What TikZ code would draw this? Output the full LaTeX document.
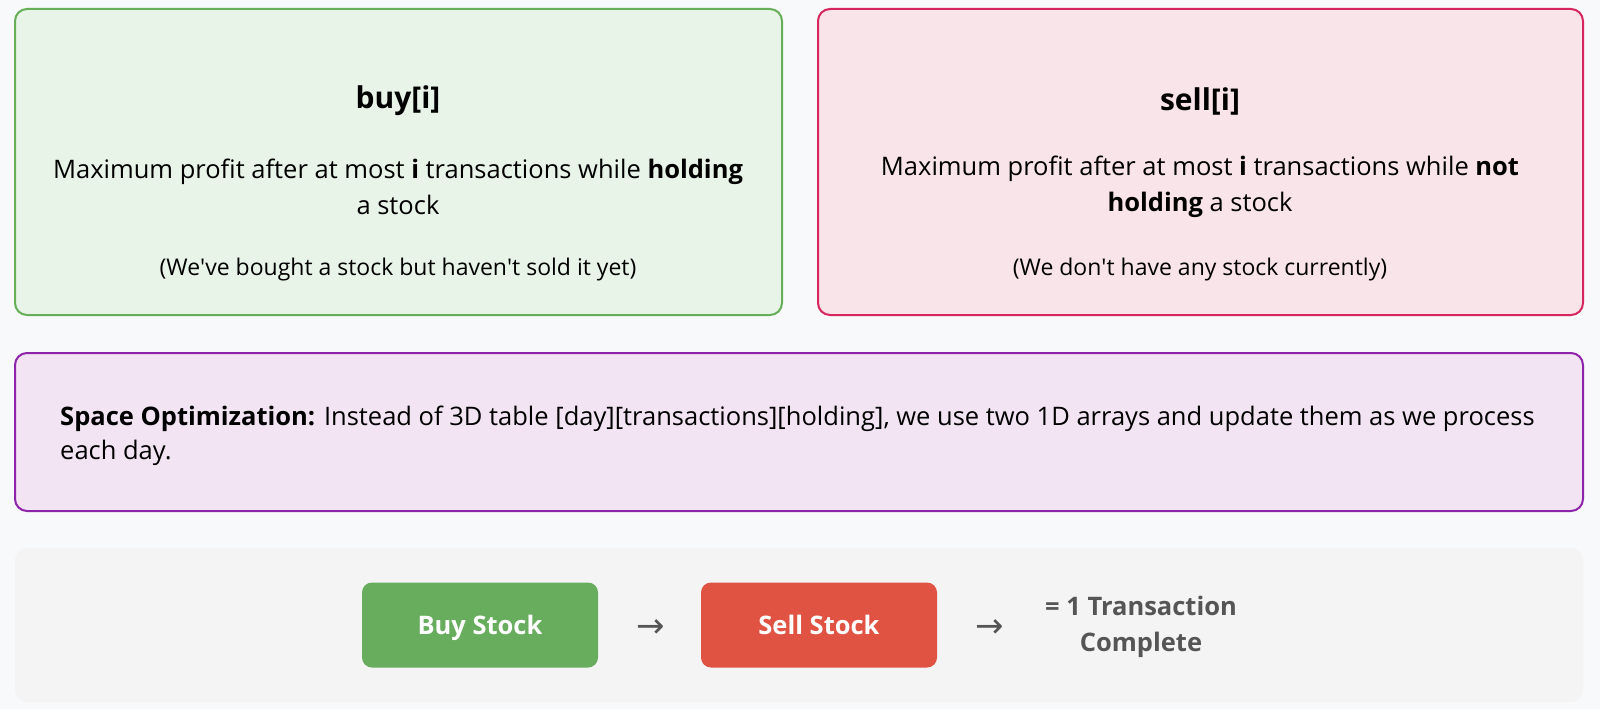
\documentclass[tikz,border=0pt]{standalone}
\usepackage{fontspec}
\setmainfont{Open Sans}
\newfontfamily\symfont{DejaVu Sans}
\definecolor{pagebg}{HTML}{F8F9FA}
\definecolor{grnfill}{HTML}{E9F4E8}
\definecolor{grnline}{HTML}{66AF58}
\definecolor{pnkfill}{HTML}{F9E4EA}
\definecolor{pnkline}{HTML}{D7265D}
\definecolor{purfill}{HTML}{F2E4F3}
\definecolor{purline}{HTML}{8E24AA}
\definecolor{panelbg}{HTML}{F4F4F4}
\definecolor{btngreen}{HTML}{68AD5E}
\definecolor{btnred}{HTML}{E05241}
\definecolor{txtgray}{HTML}{555555}
\begin{document}
\begin{tikzpicture}[x=1pt,y=-1pt,
  card/.style={draw, line width=2pt, rounded corners=12pt},
  title/.style={font=\fontsize{30}{36}\selectfont\bfseries, anchor=center},
  body/.style={font=\fontsize{25.5}{36}\selectfont, align=center, anchor=center},
  note/.style={font=\fontsize{23}{28}\selectfont, anchor=center},
  btn/.style={rounded corners=10pt, minimum width=236pt, minimum height=85pt, text=white, font=\fontsize{25.5}{30}\selectfont\bfseries, inner sep=0pt, text height=18.5pt, text depth=0pt},
  arr/.style={font=\symfont\fontsize{34}{36}\selectfont, text=txtgray, inner sep=0pt}
]
\useasboundingbox[fill=pagebg] (0,0) rectangle (1600,709);
% green card
\draw[card, fill=grnfill, draw=grnline] (15,9) rectangle (782,315);
\node[title] (buyt) at (398,101) {buy[i]};
\node[body] (buyb) at (398,187) {Maximum profit after at most \textbf{i} transactions while \textbf{holding}\\a stock};
\node[note] (buyn) at (398,270) {(We\textquotesingle ve bought a stock but haven\textquotesingle t sold it yet)};
% pink card
\draw[card, fill=pnkfill, draw=pnkline] (818,9) rectangle (1583,315);
\node[title] (sellt) at (1200,101) {sell[i]};
\node[body] (sellb) at (1200,187) {Maximum profit after at most \textbf{i} transactions while \textbf{not}\\\textbf{holding} a stock};
\node[note] (selln) at (1200,270) {(We don\textquotesingle t have any stock currently)};
% purple card
\draw[card, fill=purfill, draw=purline] (15,353) rectangle (1583,511);
\node[font=\fontsize{25.5}{34}\selectfont, align=left, anchor=west, inner sep=0pt] (space) at (60,436) {\textbf{Space Optimization:} Instead of 3D table [day][transactions][holding], we use two 1D arrays and update them as we process\\each day.};
% bottom panel
\fill[panelbg, rounded corners=12pt] (15,548) rectangle (1583,702);
\node[btn, fill=btngreen] (buy) at (480,625) {Buy Stock};
\node[btn, fill=btnred] (sell) at (819,625) {Sell Stock};
\node[arr] (a1) at (651,629) {→};
\node[arr] (a2) at (990,629) {→};
\node[font=\fontsize{25.5}{36}\selectfont\bfseries, text=txtgray, align=center] (done) at (1141,627) {= 1 Transaction\\Complete};
\end{tikzpicture}
\end{document}
